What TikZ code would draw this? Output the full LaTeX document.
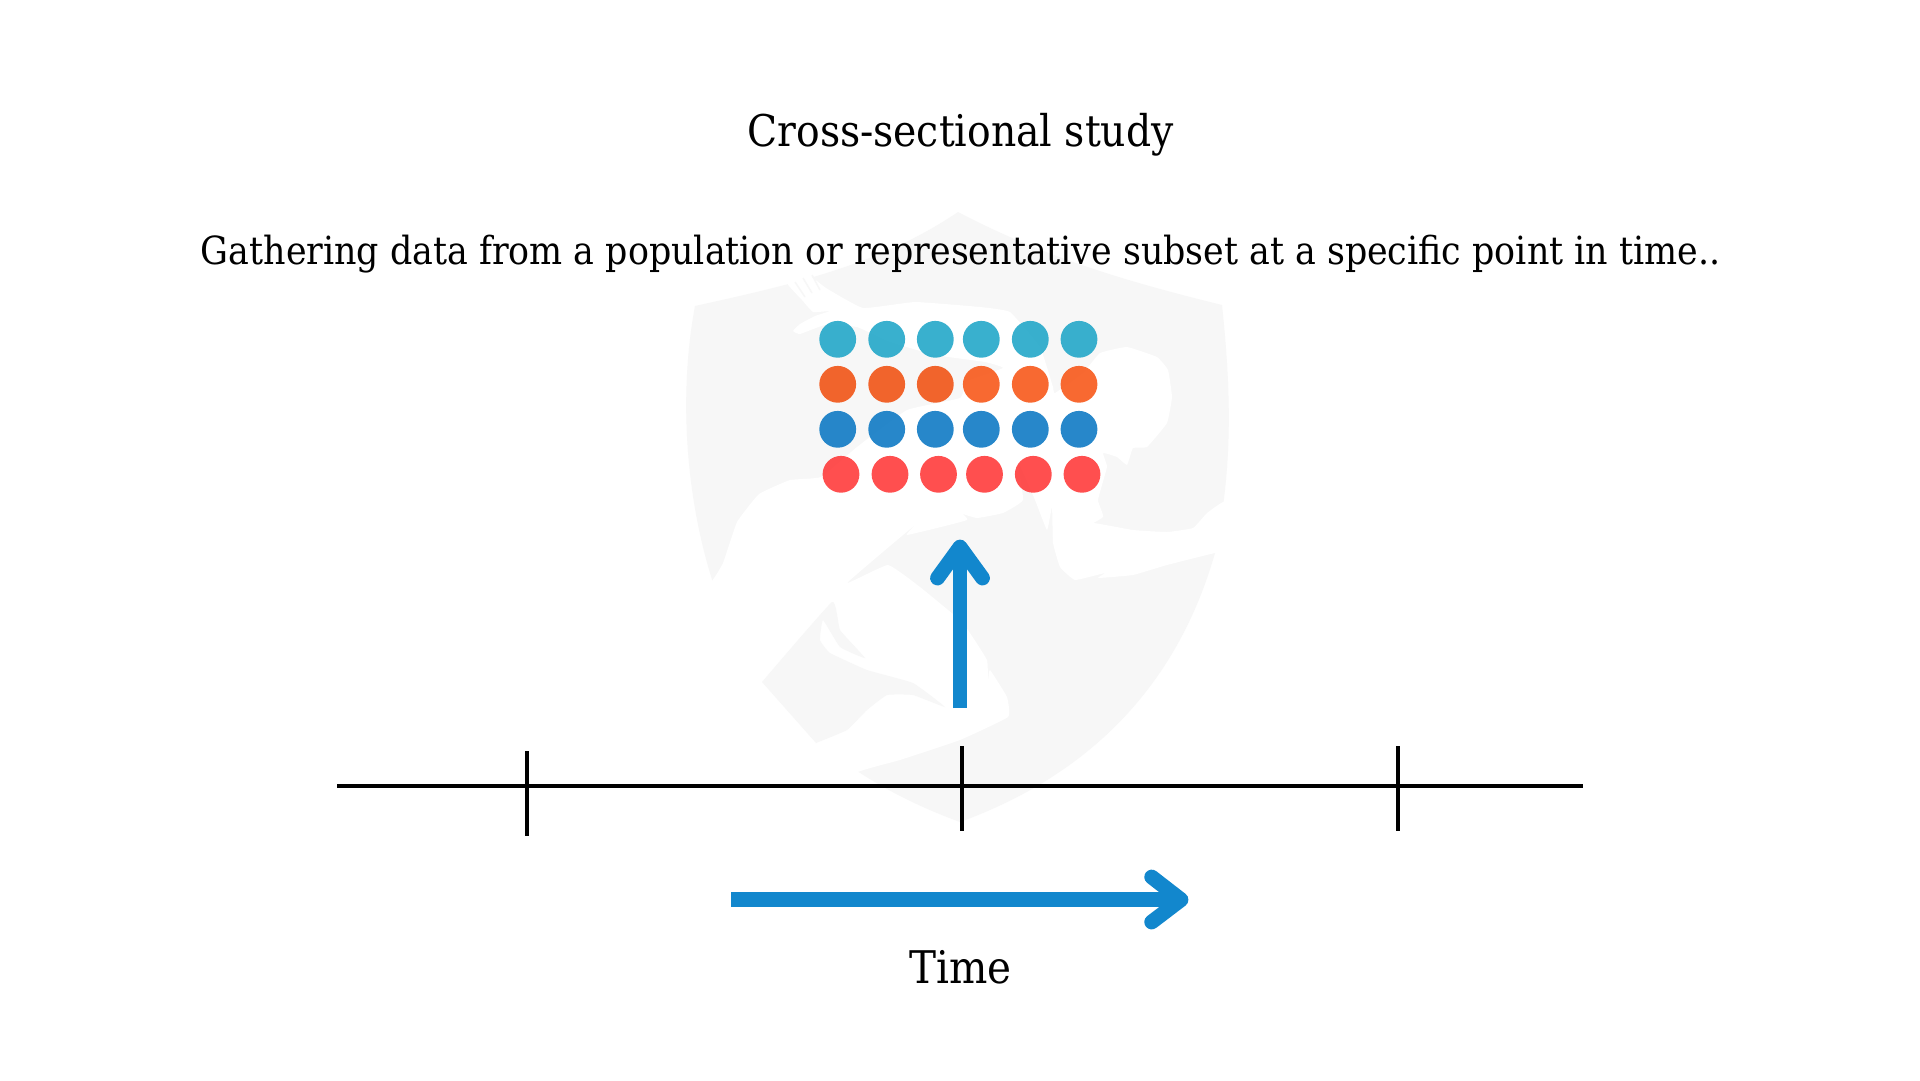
\documentclass[tikz,border=0pt]{standalone}
\usepackage{fontspec}
\setmainfont{DejaVu Serif Condensed}
\definecolor{wmgray}{HTML}{F7F7F7}
\definecolor{arrowblue}{HTML}{1287CD}
\definecolor{teal1}{RGB}{23,163,198}
\definecolor{orange1}{RGB}{247,79,14}
\definecolor{orange2}{RGB}{241,75,9}
\definecolor{blue1}{RGB}{2,115,193}
\definecolor{red1}{RGB}{255,49,49}
\tikzset{
  label text/.style={text=black,inner sep=0pt},
  dot/.style={circle,minimum size=36.8pt,inner sep=0pt,fill opacity=.85},
  axis line/.style={line width=3.8pt,black},
  big arrow/.style={line width=14.8pt,arrowblue},
  arrow head/.style={line width=14.8pt,arrowblue,line cap=round,line join=round}
}
\begin{document}
\begin{tikzpicture}[x=1pt,y=-1pt]
\useasboundingbox (0,0) rectangle (1920,1080);
\fill[white] (0,0) rectangle (1920,1080);
% watermark shield
\fill[wmgray] (958,212) .. controls (1040,255) and (1120,280) .. (1222,305)
  .. controls (1232,400) and (1232,470) .. (1215,553)
  .. controls (1190,640) and (1130,760) .. (960,822)
  .. controls (900,800) and (820,760) .. (762,682)
  .. controls (700,600) and (670,440) .. (695,306)
  .. controls (790,285) and (880,265) .. cycle;
% watermark figure
\fill[white] plot[smooth cycle,tension=.2] coordinates {
 (787,283) (802,270) (826,288) (863,308) (915,302) (980,307) (1010,312) (1040,347) (1053,387) (1055,393)
 (1083,373) (1100,353) (1127,347) (1157,357) (1168,370) (1172,397) (1167,423) (1147,447) (1133,448)
 (1127,465) (1117,457) (1103,453) (1107,467) (1098,500) (1103,517) (1077,532) (1093,523) (1133,530)
 (1167,532) (1193,528) (1207,513) (1223,502) (1245,500) (1245,550) (1215,553) (1167,565) (1133,575)
 (1098,578) (1105,573) (1075,580) (1060,567) (1053,543) (1052,507) (1047,530) (1035,500) (1018,462)
 (1023,500) (1003,513) (977,518) (960,513) (955,508) (967,520) (907,535) (915,525) (847,583) (888,565)
 (920,587) (960,620) (970,633) (987,660) (988,680) (990,670) (1007,697) (1008,717) (960,740) (900,760)
 (855,773) (740,830) (690,720) (680,600) (711,582) (723,563) (737,522) (759,494) (790,480) (821,477)
 (857,447) (907,410) (960,398) (967,381) (1003,368) (985,362) (935,355) (890,342) (857,327) (825,325)
 (800,334) (793,331) (800,324) (815,316) (830,311) (813,312) (802,300)};
\fill[wmgray] plot[smooth,tension=.2] coordinates {
 (762,682) (832,602) (840,630) (865,658) (840,647) (823,620) (820,640) (830,653) (867,670) (913,683)
 (945,707) (913,695) (887,695) (867,710) (847,730) (816,743)} -- cycle;
\draw[wmgray,line width=1.5pt] (795,282) -- (805,297) (803,278) -- (812,293) (812,275) -- (820,290);
% dots
\foreach \i/\x/\oc in {1/837.7/orange2,2/886.7/orange2,3/935.3/orange2,4/981.3/orange1,5/1030.3/orange1,6/1079/orange1}{
  \node[dot,fill=teal1] (t\i) at (\x,339.3) {};
  \node[dot,fill=\oc] (o\i) at (\x,384.3) {};
  \node[dot,fill=blue1] (b\i) at (\x,429.3) {};
}
\foreach \i/\x in {1/841,2/890,3/938.5,4/984.5,5/1033.3,6/1082}{
  \node[dot,fill=red1] (r\i) at (\x,474.3) {};
}
% texts
\node[label text,font=\fontsize{43.7}{50}\selectfont] (title) at (960.5,135) {Cross-sectional study};
\node[label text,font=\fontsize{38.75}{46}\selectfont] (subtitle) at (960.5,254) {Gathering data from a population or representative subset at a specific point in time..};
\node[label text,font=\fontsize{45}{52}\selectfont] (timelabel) at (960.5,967) {Time};
% up arrow
\coordinate (ub) at (960,708);
\coordinate (ut) at (960,547);
\coordinate (ul) at (937.5,578);
\coordinate (ur) at (982.5,578);
\draw[big arrow] (ub) -- (ut);
\draw[arrow head] (ul) -- (ut) -- (ur);
% timeline
\coordinate (a) at (337,786);
\coordinate (z) at (1583,786);
\draw[axis line] (a) -- (z);
\coordinate (p1) at (527,751);\coordinate (q1) at (527,836);
\coordinate (p2) at (962,746);\coordinate (q2) at (962,831);
\coordinate (p3) at (1398,746);\coordinate (q3) at (1398,831);
\draw[axis line] (p1) -- (q1);
\draw[axis line] (p2) -- (q2);
\draw[axis line] (p3) -- (q3);
% time arrow
\coordinate (tb) at (731,899.7);
\coordinate (tt) at (1181,899.7);
\coordinate (tu) at (1151.7,877);
\coordinate (td) at (1151.7,922);
\draw[big arrow] (tb) -- (tt);
\draw[arrow head] (tu) -- (tt) -- (td);
\end{tikzpicture}
\end{document}
